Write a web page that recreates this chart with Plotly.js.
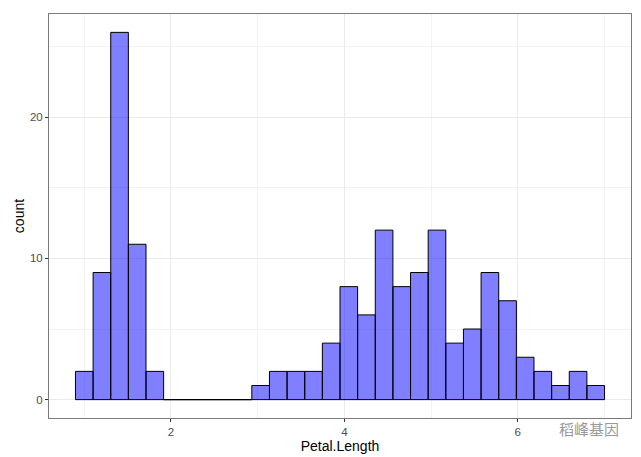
<!DOCTYPE html>
<html>
<head>
<meta charset="utf-8">
<script src="https://cdn.plot.ly/plotly-3.0.1.min.js"></script>
<style>html,body{margin:0;padding:0;background:#fff;}#chart{width:641px;height:457px;}</style>
</head>
<body>
<div id="chart"></div>
<script>
// iris Petal.Length histogram, 30 bins
const binStart = 1.0;              // centre of first bin
const binWidth = (6.9 - 1.0) / 29; // ggplot2 bins = 30
const counts = [2, 9, 26, 11, 2, 0, 0, 0, 0, 0, 1, 2, 2, 2, 4, 8, 6, 12, 8, 9, 12, 4, 5, 9, 7, 3, 2, 1, 2, 1];
const xTickVals = [2, 4, 6];
const yTickVals = [0, 10, 20];

const centers = counts.map((c, i) => binStart + i * binWidth);

// zero-count bins are drawn by ggplot as a flat line at 0
const zx = [], zy = [];
counts.forEach((c, i) => {
  if (c === 0) {
    zx.push(centers[i] - binWidth / 2, centers[i] + binWidth / 2, null);
    zy.push(0, 0, null);
  }
});

const traces = [
  {
    type: 'bar', x: centers, y: counts, width: binWidth,
    marker: {color: 'rgba(0,0,255,0.5)', line: {color: '#000', width: 1}},
    hoverinfo: 'x+y'
  },
  {
    type: 'scatter', mode: 'lines', x: zx, y: zy,
    line: {color: '#000', width: 1}, hoverinfo: 'skip', connectgaps: false
  }
];

const tickFont = {family: 'Liberation Sans, Arial, sans-serif', size: 11.5, color: '#4D4D4D'};
const titleFont = {family: 'Liberation Sans, Arial, sans-serif', size: 14, color: '#000'};

const layout = {
  width: 641, height: 457,
  margin: {l: 49, r: 10, t: 14, b: 39},
  paper_bgcolor: '#fff', plot_bgcolor: '#fff',
  showlegend: false,
  bargap: 0,
  xaxis: {
    range: [0.593, 7.307], tickvals: xTickVals, ticktext: xTickVals.map(String),
    showgrid: true, gridcolor: '#EBEBEB', gridwidth: 1,
    minor: {dtick: 1, tick0: 1, showgrid: true, gridcolor: '#EBEBEB', gridwidth: 0.6, ticks: ''},
    zeroline: false, showline: true, linecolor: '#7a7a7a', linewidth: 1, mirror: true,
    ticks: 'outside', ticklen: 3, tickcolor: '#333', tickwidth: 1,
    tickfont: tickFont,
    title: {text: 'Petal.Length', font: titleFont, standoff: 4}
  },
  yaxis: {
    range: [-1.3, 27.3], tickvals: yTickVals, ticktext: yTickVals.map(String),
    showgrid: true, gridcolor: '#EBEBEB', gridwidth: 1,
    minor: {dtick: 5, tick0: 5, showgrid: true, gridcolor: '#EBEBEB', gridwidth: 0.6, ticks: ''},
    zeroline: false, showline: true, linecolor: '#7a7a7a', linewidth: 1, mirror: true,
    ticks: 'outside', ticklen: 3, tickcolor: '#333', tickwidth: 1,
    tickfont: tickFont,
    title: {text: 'count', font: titleFont, standoff: 2}
  },
  annotations: [{
    xref: 'paper', yref: 'paper', x: 0.981, y: -0.027, xanchor: 'right', yanchor: 'middle',
    text: '稻峰基因', showarrow: false, borderpad: 0,
    font: {family: 'Noto Sans CJK SC, sans-serif', size: 15, color: '#9a9a9a'}
  }]
};

Plotly.newPlot('chart', traces, layout, {displayModeBar: false, staticPlot: true});
</script>
</body>
</html>
